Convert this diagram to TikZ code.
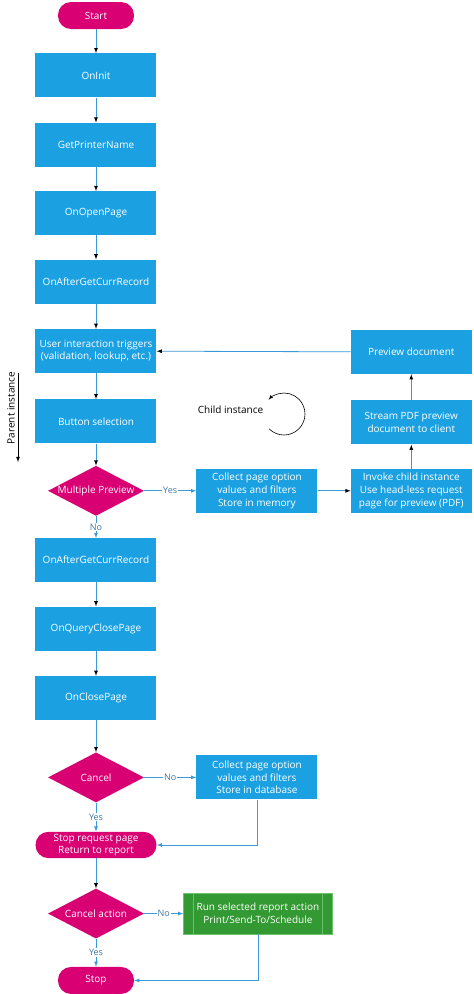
\documentclass[tikz,border=0pt]{standalone}
\usepackage{fontspec}
\setmainfont{Open Sans}
\usetikzlibrary{positioning,shapes.geometric}
\tikzset{>=latex}
\definecolor{procblue}{HTML}{1BA1E2}
\definecolor{termmag}{HTML}{D80073}
\definecolor{actgreen}{HTML}{339933}
\definecolor{actedge}{HTML}{6CC26C}
\definecolor{linkblue}{HTML}{3A9AD9}
\definecolor{labelblue}{HTML}{3F78A8}
\newcommand\nowidth[1]{\makebox[0pt]{#1}}

\begin{document}
\begin{tikzpicture}[node distance=24pt,font=\fontsize{10}{12.7}\selectfont,
                    proces/.style={fill=procblue,text=white,minimum width=121pt,minimum height=44pt,align=center,inner sep=2pt},
                    eind/.style={fill=termmag,text=white,rounded corners=13pt,minimum height=27pt,align=center,inner sep=2pt},
                    keuze/.style={diamond,fill=termmag,text=white,minimum width=96pt,minimum height=50pt,inner sep=0pt},
                    actie/.style={fill=actgreen,draw=actedge,text=white,minimum width=149pt,minimum height=41pt,align=center},
                    pijl/.style={->,draw=linkblue,line width=0.8pt},
                    tag/.style={fill=white,text=labelblue,inner sep=1pt,font=\fontsize{9}{10}\selectfont},
       ]
       \useasboundingbox (-96pt,15.5pt) rectangle (378pt,-978.5pt);
       % main column
       \node[eind,minimum width=76pt] (start) {Start};
       \node[proces,below=24pt of start] (oninit) {OnInit};
       \node[proces,below=25pt of oninit] (printer) {GetPrinterName};
       \node[proces,below=24pt of printer] (openpage) {OnOpenPage};
       \node[proces,below=24pt of openpage] (currrec) {OnAfterGetCurrRecord};
       \node[proces,below=25pt of currrec] (userint) {User interaction triggers\\(validation, lookup, etc.)};
       \node[proces,below=26pt of userint] (button) {Button selection};
       \node[keuze,below=22pt of button] (multiprev) {\nowidth{Multiple Preview}};
       \node[proces,below=22pt of multiprev] (currrec2) {OnAfterGetCurrRecord};
       \node[proces,below=24pt of currrec2] (queryclose) {OnQueryClosePage};
       \node[proces,below=25pt of queryclose] (closepage) {OnClosePage};
       \node[keuze,below=32pt of closepage] (cancel) {\nowidth{Cancel}};
       \node[eind,minimum width=121pt,minimum height=26pt,below=29pt of cancel] (stopreq) {Stop request page\\Return to report};
       \node[keuze,below=30pt of stopreq] (cancelact) {\nowidth{Cancel action}};
       \node[eind,minimum width=76pt,below=28pt of cancelact] (stop) {Stop};
       % child instance branch
       \node[proces,right=52pt of multiprev] (collmem) {Collect page option\\values and filters\\Store in memory};
       \node[proces,right=33pt of collmem] (invoke) {Invoke child instance\\Use head-less request\\page for preview (PDF)};
       \node[proces,above=24pt of invoke] (stream) {Stream PDF preview\\document to client};
       \node[proces,above=26pt of stream] (preview) {Preview document};
       % closing branch
       \node[proces,right=52pt of cancel] (colldb) {Collect page option\\values and filters\\Store in database};
       \node[actie,right=39pt of cancelact] (runact) {Run selected report action\\Print/Send-To/Schedule};
       \draw[actedge,line width=0.8pt] ([xshift=10pt]runact.north west) -- ([xshift=10pt]runact.south west)
                                       ([xshift=-10pt]runact.north east) -- ([xshift=-10pt]runact.south east);
       % side notes
       \node at (134.5pt,-394.5pt) (childnote) {Child instance};
       \draw[->,line width=0.6pt] (188pt,-398.5pt) ++(-135:21pt) arc[start angle=-135,end angle=137,radius=21pt];
       \node[rotate=90] at (-85pt,-392.5pt) (parentnote) {Parent instance};
       \coordinate (ptop) at (-78pt,-357.5pt);
       \coordinate (pbot) at (-78pt,-446.5pt);
       \draw[->,line width=0.8pt] (ptop) -- (pbot);
       % connectors
       \path[pijl]
           (start) edge (oninit)
           (oninit) edge (printer)
           (printer) edge (openpage)
           (openpage) edge (currrec)
           (currrec) edge (userint)
           (userint) edge (button)
           (button) edge (multiprev)
           (currrec2) edge (queryclose)
           (queryclose) edge (closepage)
           (closepage) edge (cancel)
           (stopreq) edge (cancelact)
           (collmem) edge (invoke)
           (invoke) edge (stream)
           (stream) edge (preview)
           (preview) edge (userint)
           ;
       \draw[pijl] (multiprev) -- (collmem) node[tag,midway] {Yes};
       \draw[pijl] (multiprev) -- (currrec2) node[tag,midway] {No};
       \draw[pijl] (cancel) -- (colldb) node[tag,midway] {No};
       \draw[pijl] (cancel) -- (stopreq) node[tag,midway] {Yes};
       \draw[pijl] (cancelact) -- (runact) node[tag,midway] {No};
       \draw[pijl] (cancelact) -- (stop) node[tag,midway] {Yes};
       \draw[pijl] (colldb.south) |- (stopreq.east);
       \draw[pijl] (runact.south) |- (stop.east);
\end{tikzpicture}
\end{document}
